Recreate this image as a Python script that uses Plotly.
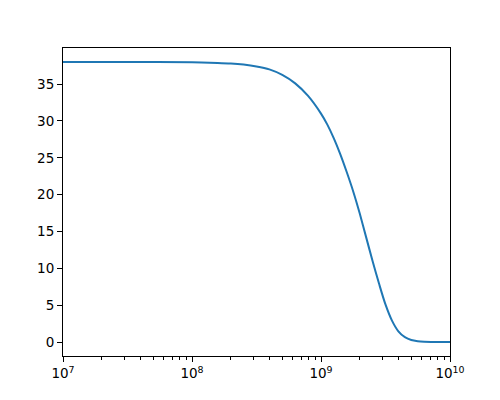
import plotly.graph_objects as go

# Valores (frecuencia en Hz, magnitud)
freq = [1e7, 3.16e7, 1e8, 1.58e8, 2e8, 2.51e8, 3.16e8, 3.98e8, 5.01e8, 6.31e8, 7.94e8,
        1e9, 1.12e9, 1.26e9, 1.41e9, 1.58e9, 1.78e9, 2.0e9, 2.24e9, 2.51e9, 2.82e9,
        3.16e9, 3.55e9, 3.98e9, 4.47e9, 5.01e9, 5.62e9, 6.31e9, 7.94e9, 1e10]
valor = [38.0, 38.0, 37.96, 37.88, 37.8, 37.65, 37.4, 37.0, 36.25, 35.1, 33.4,
         31.0, 29.5, 27.6, 25.5, 23.1, 20.4, 17.4, 14.2, 11.0, 7.9,
         5.1, 2.9, 1.45, 0.65, 0.27, 0.11, 0.04, 0.01, 0.0]

xticks = [1e7, 1e8, 1e9, 1e10]
xtick_text = ["10<sup>7</sup>", "10<sup>8</sup>", "10<sup>9</sup>", "10<sup>10</sup>"]
yticks = [0, 5, 10, 15, 20, 25, 30, 35]

fig = go.Figure(go.Scatter(
    x=freq, y=valor, mode="lines",
    line=dict(color="#1f77b4", width=2, shape="spline", smoothing=0.8),
))

ejes = dict(showline=True, mirror=True, linecolor="black", linewidth=1.1,
            showgrid=False, zeroline=False, ticks="outside", ticklen=5,
            tickwidth=1.1, tickcolor="black", automargin=False)

fig.update_xaxes(type="log", range=[7, 10], tickvals=xticks, ticktext=xtick_text,
                 minor=dict(ticks="outside", ticklen=3, tickwidth=0.8,
                            tickcolor="black", dtick="D1", showgrid=False),
                 **ejes)
fig.update_yaxes(range=[-1.9, 39.9], tickvals=yticks, **ejes)

# La página tiene 8px de margen en el body: se compensa en los márgenes.
fig.update_layout(
    width=500, height=400, template="simple_white", showlegend=False,
    margin=dict(l=55, r=58, t=40, b=52),
    font=dict(family="DejaVu Sans", size=13.5, color="black"),
    plot_bgcolor="white", paper_bgcolor="white",
)

fig.write_html("out.html")
